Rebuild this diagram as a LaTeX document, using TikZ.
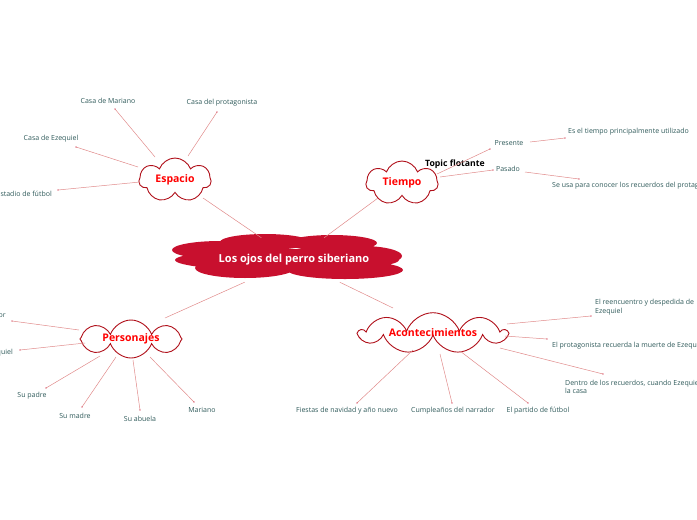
\documentclass[tikz,border=0pt]{standalone}
\usepackage{fontspec}
\setmainfont{Open Sans}
\usetikzlibrary{shapes.symbols}
\definecolor{lnk}{HTML}{E08A8A}
\definecolor{txt}{HTML}{2F5A5A}
\definecolor{dk}{HTML}{B0101A}
\definecolor{mainred}{HTML}{C8102E}
\tikzset{
 sub/.style={cloud,cloud puffs=7,cloud puff arc=140,cloud ignores aspect,draw=dk,line width=0.9pt,fill=white,text=red,font=\bfseries\fontsize{10.5}{12}\selectfont,inner sep=0pt},
 leaf/.style={text=txt,font=\fontsize{7}{8.5}\selectfont,inner sep=1pt,align=left},
 con/.style={draw=lnk,line width=0.5pt},
 dot/.style={fill=mainred,circle,inner sep=0.5pt},
}
\begin{document}
\begin{tikzpicture}[x=1pt,y=-1pt]
\useasboundingbox (0,0) rectangle (697,520);
\clip (0,0) rectangle (697,520);
% central
\fill[mainred] (287,260) ellipse (112 and 11)
 (265,242) ellipse (45 and 8) (332,243) ellipse (45 and 8)
 (220,250) ellipse (48 and 9) (362,256) ellipse (40 and 10)
 (245,268) ellipse (50 and 10) (345,270) ellipse (58 and 9);
\node[text=white,font=\bfseries\fontsize{11}{13}\selectfont,inner sep=2pt,minimum width=228pt,minimum height=44pt] (c) at (294,260) {Los ojos del perro siberiano};
\node[sub,minimum width=72pt,minimum height=44pt] (esp) at (175,180) {Espacio};
\node[sub,minimum width=72pt,minimum height=44pt] (tie) at (402,183) {Tiempo};
\node[sub,cloud puffs=8,minimum width=102pt,minimum height=38pt] (per) at (131,339) {Personajes};
\node[sub,cloud puffs=9,minimum width=146pt,minimum height=40pt] (acon) at (433,333) {Acontecimientos};
\node[font=\bfseries\fontsize{8.7}{10}\selectfont,inner sep=0pt] (tf) at (455,164) {Topic flotante};
% connectors main
\draw[con] (203,198) -- (c);
\draw[con] (378,198) -- (c);
\draw[con] (165,318) -- (c);
\draw[con] (393,308) -- (c);
% Espacio leaves
\node[leaf] (e1) at (108,101) {Casa de Mariano};
\node[leaf] (e2) at (222,103) {Casa del protagonista};
\node[leaf] (e3) at (51,139) {Casa de Ezequiel};
\node[leaf,anchor=east] (e4) at (53,194) {Estadio de fútbol};
\coordinate (de1) at (115,109); \coordinate (de2) at (217,112);
\coordinate (de3) at (76,147); \coordinate (de4) at (58,190);
\draw[con] (155,157) -- (de1); \draw[con] (188,156) -- (de2);
\draw[con] (138,167) -- (de3); \draw[con] (140,182) -- (de4);
\foreach \d in {de1,de2,de3,de4} \node[dot] at (\d) {};
% Tiempo leaves
\node[leaf] (t1) at (509,143) {Presente};
\node[leaf] (t2) at (508,169) {Pasado};
\node[leaf,anchor=west] (t3) at (567,132) {Es el tiempo principalmente utilizado};
\node[leaf,anchor=west] (t4) at (551,186) {Se usa para conocer los recuerdos del protagonista};
\coordinate (dt1) at (490,149); \coordinate (dt2) at (493,170);
\coordinate (dt3) at (565,138); \coordinate (dt4) at (579,179);
\draw[con] (437,174) -- (dt1); \draw[con] (440,177) -- (dt2);
\draw[con] (530,142) -- (dt3); \draw[con] (525,172) -- (dt4);
\foreach \d in {dt1,dt2,dt3,dt4} \node[dot] at (\d) {};
% Personajes leaves
\node[leaf,anchor=east] (p1) at (7,315) {El narrador};
\node[leaf,anchor=east] (p2) at (14,353) {Ezequiel};
\node[leaf] (p3) at (32,396) {Su padre};
\node[leaf] (p4) at (75,416) {Su madre};
\node[leaf] (p5) at (140,419) {Su abuela};
\node[leaf] (p6) at (202,410) {Mariano};
\coordinate (dp1) at (12,321); \coordinate (dp2) at (20,350);
\coordinate (dp3) at (46,388); \coordinate (dp4) at (82,407);
\coordinate (dp5) at (140,410); \coordinate (dp6) at (194,402);
\draw[con] (79,330) -- (dp1); \draw[con] (85,343) -- (dp2);
\draw[con] (100,356) -- (dp3); \draw[con] (116,357) -- (dp4);
\draw[con] (133,360) -- (dp5); \draw[con] (150,357) -- (dp6);
\foreach \d in {dp1,dp2,dp3,dp4,dp5,dp6} \node[dot] at (\d) {};
% Acontecimientos leaves
\node[leaf,anchor=west] (a1) at (594,307) {El reencuentro y despedida de\\Ezequiel};
\node[leaf,anchor=west] (a2) at (551,346) {El protagonista recuerda la muerte de Ezequiel};
\node[leaf,anchor=west] (a3) at (564,387) {Dentro de los recuerdos, cuando Ezequiel\\la casa};
\node[leaf] (a4) at (347,411) {Fiestas de navidad y año nuevo};
\node[leaf] (a5) at (453,411) {Cumpleaños del narrador};
\node[leaf] (a6) at (538,411) {El partido de fútbol};
\coordinate (da1) at (591,316); \coordinate (da2) at (547,339);
\coordinate (da3) at (603,374); \coordinate (da4) at (357,403);
\coordinate (da5) at (452,403); \coordinate (da6) at (528,403);
\draw[con] (507,324) -- (da1); \draw[con] (505,336) -- (da2);
\draw[con] (500,348) -- (da3); \draw[con] (413,350) -- (da4);
\draw[con] (440,354) -- (da5); \draw[con] (460,351) -- (da6);
\foreach \d in {da1,da2,da3,da4,da5,da6} \node[dot] at (\d) {};
\end{tikzpicture}
\end{document}
